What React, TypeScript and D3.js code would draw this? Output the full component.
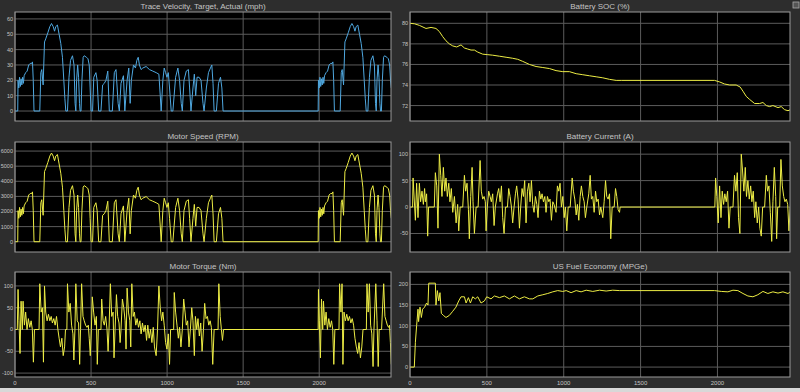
import React from "react";
import * as d3 from "d3";

// ---- data ----

const timeTicks = [0, 500, 1000, 1500, 2000];
const velocityTicks = [0, 10, 20, 30, 40, 50, 60];
const socTicks = [72, 74, 76, 78, 80];
const speedTicks = [0, 1000, 2000, 3000, 4000, 5000, 6000];
const currentTicks = [-50, 0, 50, 100];
const torqueTicks = [-100, -50, 0, 50, 100];
const mpgeTicks = [0, 50, 100, 150, 200];

// drive cycle sample times (s), shared by velocity and motor speed
const driveTimes = [
  0, 18, 20, 25, 30, 35, 40, 45, 50, 55,
  60, 70, 80, 90, 100, 110, 115, 120, 125, 163,
  170, 176, 185, 194, 202, 216, 229, 240, 251, 260,
  268, 279, 290, 301, 312, 321, 328, 334, 345, 355,
  365, 378, 388, 395, 400, 405, 412, 418, 424, 428,
  434, 440, 448, 455, 470, 480, 488, 494, 500, 510,
  518, 532, 540, 550, 565, 576, 587, 598, 610, 620,
  640, 653, 664, 678, 686, 697, 713, 722, 737, 748,
  757, 765, 779, 792, 801, 810, 818, 829, 840, 862,
  884, 906, 928, 946, 955, 961, 972, 981, 990, 999,
  1008, 1016, 1027, 1038, 1056, 1071, 1082, 1093, 1100, 1111,
  1126, 1140, 1148, 1157, 1170, 1179, 1188, 1197, 1210, 1223,
  1236, 1243, 1258, 1272, 1285, 1294, 1302, 1309, 1324, 1338,
  1351, 1360, 1368, 1993, 1995, 2000, 2005, 2010, 2015, 2020,
  2025, 2030, 2035, 2045, 2055, 2065, 2075, 2085, 2090, 2095,
  2100, 2138, 2145, 2151, 2160, 2169, 2177, 2191, 2204, 2215,
  2226, 2235, 2243, 2254, 2265, 2276, 2287, 2296, 2303, 2309,
  2320, 2330, 2340, 2353, 2363, 2370, 2375, 2380, 2387, 2393,
  2399, 2403, 2409, 2415, 2423, 2430, 2445, 2455, 2463, 2469,
  2474,
];

const velocityMph = [
  0, 0, 20, 15, 22, 16, 21, 17, 22, 18,
  23, 25, 26, 30, 31, 31, 32, 20, 0, 0,
  25, 27, 17, 45, 47, 51, 55, 57, 55, 52,
  55, 56, 50, 44, 35, 20, 8, 0, 0, 22,
  33, 36, 30, 5, 0, 20, 30, 22, 5, 0,
  0, 20, 35, 36, 35, 34, 30, 15, 0, 0,
  22, 25, 20, 0, 0, 17, 18, 20, 26, 0,
  0, 25, 27, 5, 0, 18, 23, 0, 20, 28,
  5, 20, 30, 28, 33, 35, 30, 27, 28, 29,
  27, 26, 25, 24, 10, 0, 20, 28, 25, 22,
  25, 15, 0, 0, 22, 28, 20, 5, 0, 20,
  26, 27, 15, 0, 15, 24, 10, 22, 22, 20,
  5, 0, 15, 25, 28, 30, 18, 0, 0, 18,
  22, 15, 0, 0, 20, 15, 22, 16, 21, 17,
  22, 18, 23, 25, 26, 30, 31, 31, 32, 20,
  0, 0, 25, 27, 17, 45, 47, 51, 55, 57,
  55, 52, 55, 56, 50, 44, 35, 20, 8, 0,
  0, 22, 33, 36, 30, 5, 0, 20, 30, 22,
  5, 0, 0, 20, 35, 36, 35, 34, 30, 20,
  15,
];

const motorSpeedRpm = [
  0, 0, 2060, 1550, 2270, 1650, 2160, 1750, 2270, 1850,
  2370, 2580, 2680, 3090, 3190, 3190, 3300, 2060, 0, 0,
  2580, 2780, 1750, 4640, 4840, 5250, 5670, 5870, 5670, 5360,
  5670, 5770, 5150, 4530, 3610, 2060, 820, 0, 0, 2270,
  3400, 3710, 3090, 520, 0, 2060, 3090, 2270, 520, 0,
  0, 2060, 3610, 3710, 3610, 3500, 3090, 1550, 0, 0,
  2270, 2580, 2060, 0, 0, 1750, 1850, 2060, 2680, 0,
  0, 2580, 2780, 520, 0, 1850, 2370, 0, 2060, 2880,
  520, 2060, 3090, 2880, 3400, 3610, 3090, 2780, 2880, 2990,
  2780, 2680, 2580, 2470, 1030, 0, 2060, 2880, 2580, 2270,
  2580, 1550, 0, 0, 2270, 2880, 2060, 520, 0, 2060,
  2680, 2780, 1550, 0, 1550, 2470, 1030, 2270, 2270, 2060,
  520, 0, 1550, 2580, 2880, 3090, 1850, 0, 0, 1850,
  2270, 1550, 0, 0, 2060, 1550, 2270, 1650, 2160, 1750,
  2270, 1850, 2370, 2580, 2680, 3090, 3190, 3190, 3300, 2060,
  0, 0, 2580, 2780, 1750, 4640, 4840, 5250, 5670, 5870,
  5670, 5360, 5670, 5770, 5150, 4530, 3610, 2060, 820, 0,
  0, 2270, 3400, 3710, 3090, 520, 0, 2060, 3090, 2270,
  520, 0, 0, 2060, 3610, 3710, 3610, 3500, 3090, 2060,
  1550,
];

const socTimes = [
  0, 30, 61, 104, 137, 169, 191, 213, 234, 256,
  278, 304, 332, 354, 375, 397, 419, 441, 473, 506,
  538, 582, 625, 668, 701, 733, 777, 820, 864, 907,
  950, 994, 1037, 1081, 1124, 1167, 1211, 1254, 1298, 1341,
  1374, 1981, 2014, 2046, 2079, 2122, 2148, 2166, 2187, 2209,
  2242, 2274, 2296, 2318, 2339, 2361, 2394, 2415, 2437, 2459,
  2474,
];
const socPct = [
  80.0, 79.95, 79.8, 79.5, 79.6, 79.5, 79.2, 78.7, 78.3, 78.0,
  77.8, 77.7, 77.9, 77.6, 77.5, 77.4, 77.4, 77.2, 77.0, 76.95,
  76.9, 76.8, 76.7, 76.6, 76.5, 76.3, 76.0, 75.8, 75.7, 75.6,
  75.4, 75.3, 75.3, 75.1, 75.0, 74.9, 74.8, 74.7, 74.55, 74.45,
  74.45, 74.45, 74.3, 74.1, 74.0, 74.0, 73.8, 73.4, 72.9, 72.6,
  72.2, 72.2, 72.3, 72.0, 71.9, 72.0, 71.8, 71.9, 71.6, 71.5,
  71.6,
];

const currentTimes = [
  0, 17, 20, 35, 43, 52, 61, 69, 78, 87,
  95, 100, 108, 115, 121, 158, 165, 174, 182, 191,
  200, 208, 217, 226, 234, 243, 252, 260, 269, 278,
  289, 300, 310, 317, 326, 343, 354, 362, 371, 380,
  386, 395, 404, 410, 419, 430, 443, 456, 464, 473,
  482, 490, 495, 503, 512, 521, 529, 538, 547, 555,
  569, 577, 586, 595, 603, 612, 621, 634, 642, 651,
  660, 668, 677, 686, 694, 703, 712, 720, 729, 738,
  746, 755, 764, 773, 781, 790, 798, 807, 816, 825,
  833, 842, 851, 859, 868, 877, 885, 894, 903, 911,
  920, 929, 937, 950, 959, 968, 976, 985, 994, 1003,
  1011, 1020, 1029, 1042, 1055, 1063, 1072, 1081, 1089, 1098,
  1107, 1115, 1124, 1133, 1141, 1150, 1163, 1172, 1180, 1189,
  1198, 1207, 1215, 1224, 1233, 1241, 1254, 1263, 1272, 1280,
  1289, 1298, 1306, 1315, 1328, 1337, 1345, 1354, 1363, 1367,
  1983, 1988, 1996, 2005, 2014, 2023, 2031, 2040, 2048, 2057,
  2066, 2075, 2083, 2101, 2111, 2120, 2129, 2137, 2146, 2155,
  2163, 2172, 2181, 2189, 2198, 2207, 2216, 2224, 2233, 2242,
  2250, 2259, 2268, 2276, 2285, 2294, 2307, 2318, 2326, 2335,
  2344, 2353, 2361, 2370, 2379, 2385, 2392, 2405, 2413, 2422,
  2431, 2439, 2448, 2457, 2465, 2474,
];
const currentAmps = [
  0, 0, 55, -25, 45, -20, 45, 10, 30, 5,
  35, 10, 25, -55, 0, 0, 65, 40, -40, 100,
  60, 20, 75, 30, 55, 20, 45, 10, 35, -10,
  20, -30, 5, -45, 0, 0, 60, 30, 45, -5,
  -60, 20, 75, 10, -50, 0, 0, 88, 30, 15,
  20, 10, -45, 0, 30, 20, 10, 25, -35, 0,
  25, 35, 10, 40, -20, -50, 0, 0, 35, 20,
  0, -30, 0, 25, 40, 15, -40, 0, 35, 20,
  50, -30, 30, 45, 10, 50, 5, -10, 20, 5,
  -20, 30, 15, 25, 10, 20, -10, 20, 10, 15,
  -25, 10, 5, -10, 40, 30, 45, 0, 20, -20,
  0, -45, 0, 0, 55, 30, 15, -15, 5, -25,
  20, 40, 20, 10, -20, 0, 25, 60, 15, 20,
  -10, 30, 10, 15, -15, 0, -20, 10, 50, 20,
  15, 25, -60, 0, 0, 35, 20, -5, -10, 0,
  0, 55, 20, -30, 40, -20, 30, 5, 25, 10,
  30, -40, 0, 0, 60, 30, 65, -20, -50, 100,
  70, 30, 75, 20, 50, 15, 40, 10, 30, -20,
  10, -30, 0, -40, -55, 0, 0, 60, 30, 40,
  -10, -65, 10, 75, 20, -60, 0, 0, 90, 40,
  20, 10, 15, 5, -45, 0,
];

const torqueTimes = [
  0, 15, 20, 26, 33, 40, 48, 53, 62, 70,
  79, 88, 97, 106, 114, 121, 128, 158, 163, 172,
  180, 187, 194, 202, 211, 220, 229, 238, 246, 255,
  264, 273, 282, 290, 299, 308, 317, 326, 332, 341,
  345, 354, 363, 372, 381, 387, 394, 400, 409, 418,
  425, 431, 438, 447, 455, 464, 473, 482, 488, 495,
  502, 508, 517, 526, 535, 541, 548, 565, 570, 579,
  587, 596, 605, 612, 618, 627, 636, 645, 651, 658,
  667, 675, 684, 691, 697, 706, 715, 724, 730, 737,
  746, 755, 761, 768, 777, 785, 794, 803, 812, 821,
  829, 838, 847, 856, 865, 873, 882, 891, 900, 909,
  917, 928, 937, 946, 955, 964, 972, 981, 990, 999,
  1008, 1016, 1023, 1043, 1047, 1056, 1065, 1074, 1082, 1091,
  1100, 1109, 1118, 1126, 1135, 1144, 1153, 1162, 1170, 1179,
  1186, 1195, 1203, 1212, 1221, 1230, 1239, 1247, 1256, 1265,
  1274, 1283, 1291, 1300, 1309, 1335, 1340, 1349, 1357, 1364,
  1371, 1993, 1995, 2001, 2008, 2015, 2023, 2028, 2037, 2045,
  2054, 2063, 2072, 2081, 2089, 2096, 2103, 2130, 2134, 2143,
  2150, 2156, 2163, 2172, 2181, 2190, 2199, 2208, 2217, 2226,
  2235, 2244, 2253, 2262, 2271, 2280, 2288, 2310, 2314, 2322,
  2330, 2338, 2346, 2354, 2360, 2372, 2380, 2388, 2394, 2410,
  2424, 2432, 2440, 2448, 2456, 2462, 2468, 2474,
];
const torqueNm = [
  0, 0, 92, 20, -55, 65, 0, 65, 10, 40,
  0, 25, 5, 20, 0, -75, 0, 0, 105, 40,
  50, -75, 100, 40, 20, 35, 20, 30, 15, 25,
  10, 30, 0, -20, -40, -20, -60, -40, 0, 0,
  105, 40, 60, 10, -10, -70, 0, 105, 20, 15,
  -80, 0, 105, 30, 20, 10, 5, 10, -20, -60,
  0, 75, 40, 10, 30, -80, 0, 0, 70, 20,
  10, 30, 0, -50, 0, 105, 30, 40, -65, 0,
  80, 30, 15, -30, 0, 70, 50, 20, -45, 95,
  40, 20, -40, 105, 30, 40, 10, 25, 5, 20,
  -10, 15, -5, 10, -25, 10, -20, 0, -30, 5,
  -40, -60, 0, 100, 50, 20, 40, 10, -30, -45,
  -10, -80, 0, 0, 85, 40, 10, -20, 5, -40,
  0, 70, 40, 10, 20, -40, 0, 50, 20, -60,
  30, 0, 25, -15, 15, -50, 0, 60, 25, 30,
  10, 20, 5, -80, 0, 0, 105, 30, 0, -25,
  0, 0, 92, 20, -65, 70, 0, 65, 10, 40,
  0, 25, 5, 20, 0, -80, 0, 0, 105, 40,
  105, -80, 40, 20, 35, 20, 30, 15, 25, 10,
  -20, -40, -55, -30, -65, -40, 0, 0, 105, 40,
  105, 10, -10, -85, 0, 105, 20, -85, 0, 0,
  105, 30, 20, 10, 5, 10, -30, -80,
];

const mpgeTimes = [
  0, 28, 35, 43, 52, 56, 65, 74, 82, 95,
  108, 117, 122, 165, 169, 178, 187, 195, 204, 217,
  234, 256, 278, 299, 317, 332, 354, 365, 380, 393,
  408, 425, 441, 462, 484, 499, 527, 549, 582, 614,
  647, 679, 712, 744, 777, 799, 831, 864, 896, 929,
  961, 994, 1016, 1048, 1081, 1113, 1146, 1189, 1233, 1276,
  1319, 1363, 1981, 2025, 2068, 2101, 2133, 2166, 2198, 2231,
  2263, 2296, 2328, 2361, 2394, 2426, 2459, 2474,
];
const mpge = [
  0, 0, 60, 100, 140, 110, 145, 120, 140, 145,
  155, 150, 203, 203, 150, 185, 160, 180, 130, 125,
  120, 125, 135, 145, 160, 170, 170, 155, 168, 155,
  170, 165, 170, 155, 160, 170, 165, 172, 168, 172,
  165, 172, 165, 170, 165, 165, 172, 175, 178, 182,
  185, 183, 185, 180, 185, 182, 186, 183, 186, 184,
  186, 185, 185, 183, 182, 186, 185, 178, 172, 170,
  175, 183, 178, 182, 179, 182, 178, 182,
];

// ---- layout / style ----
const W = 800;
const H = 392;
const BG = "#2d2d2d";
const GRID = "#5c5c5c";
const FRAME = "#9a9a9a";
const TEXT = "#c4c4c4";
const YELLOW = "#eded45";
const BLUE = "#4fa8e0";
const FONT = "'Liberation Sans', Arial, sans-serif";
const T_MAX = 2472;

type PanelProps = {
  id: string;
  title: string;
  x0: number;
  x1: number;
  y0: number;
  y1: number;
  yDomain: [number, number];
  yTicks: number[];
  times: number[];
  values: number[];
  color: string;
  showTime: boolean;
};

function Panel(p: PanelProps) {
  const x = d3.scaleLinear().domain([0, T_MAX]).range([p.x0, p.x1]);
  const y = d3.scaleLinear().domain(p.yDomain).range([p.y1, p.y0]);
  const pts = d3.zip(p.times, p.values) as [number, number][];
  const line = d3
    .line<[number, number]>()
    .x((d) => x(d[0]))
    .y((d) => y(d[1]));

  return (
    <g>
      <defs>
        <clipPath id={`clip-${p.id}`}>
          <rect x={p.x0} y={p.y0} width={p.x1 - p.x0} height={p.y1 - p.y0} />
        </clipPath>
      </defs>
      <rect x={p.x0} y={p.y0} width={p.x1 - p.x0} height={p.y1 - p.y0} fill="#000" />
      {timeTicks.map((t) => (
        <line key={"gx" + t} x1={x(t)} x2={x(t)} y1={p.y0} y2={p.y1} stroke={GRID} strokeWidth={1} />
      ))}
      {p.yTicks.map((v) => (
        <line key={"gy" + v} x1={p.x0} x2={p.x1} y1={y(v)} y2={y(v)} stroke={GRID} strokeWidth={1} />
      ))}
      <path
        d={line(pts) || ""}
        fill="none"
        stroke={p.color}
        strokeWidth={1}
        strokeLinejoin="round"
        clipPath={`url(#clip-${p.id})`}
      />
      <rect
        x={p.x0}
        y={p.y0}
        width={p.x1 - p.x0}
        height={p.y1 - p.y0}
        fill="none"
        stroke={FRAME}
        strokeWidth={1}
      />
      {p.yTicks.map((v) => (
        <text
          key={"ly" + v}
          x={p.x0 - 2}
          y={y(v)}
          dy="0.35em"
          textAnchor="end"
          fontSize={5.5}
          fill={TEXT}
        >
          {v}
        </text>
      ))}
      {p.showTime &&
        timeTicks.map((t) => (
          <text key={"lx" + t} x={x(t)} y={p.y1 + 8} textAnchor="middle" fontSize={6} fill={TEXT}>
            {t}
          </text>
        ))}
      <text x={(p.x0 + p.x1) / 2} y={p.y0 - 3} textAnchor="middle" fontSize={8} fill={TEXT}>
        {p.title}
      </text>
    </g>
  );
}

export default function App() {
  const L = { x0: 15, x1: 391 };
  const R = { x0: 410, x1: 790 };
  const rows = [
    { y0: 12, y1: 121 },
    { y0: 142, y1: 252 },
    { y0: 272, y1: 377 },
  ];

  return (
    <svg
      width={W}
      height={H}
      style={{ position: "absolute", left: 0, top: 0, fontFamily: FONT }}
    >
      <rect width={W} height={H} fill={BG} />
      <Panel id="vel" title="Trace Velocity, Target, Actual (mph)" {...L} {...rows[0]}
        yDomain={[-6.5, 64.5]} yTicks={velocityTicks} times={driveTimes} values={velocityMph}
        color={BLUE} showTime={false} />
      <Panel id="soc" title="Battery SOC (%)" {...R} {...rows[0]}
        yDomain={[70.5, 81.1]} yTicks={socTicks} times={socTimes} values={socPct}
        color={YELLOW} showTime={false} />
      <Panel id="rpm" title="Motor Speed (RPM)" {...L} {...rows[1]}
        yDomain={[-680, 6600]} yTicks={speedTicks} times={driveTimes} values={motorSpeedRpm}
        color={YELLOW} showTime={false} />
      <Panel id="amp" title="Battery Current (A)" {...R} {...rows[1]}
        yDomain={[-85, 123]} yTicks={currentTicks} times={currentTimes} values={currentAmps}
        color={YELLOW} showTime={false} />
      <Panel id="trq" title="Motor Torque (Nm)" {...L} {...rows[2]}
        yDomain={[-109, 132]} yTicks={torqueTicks} times={torqueTimes} values={torqueNm}
        color={YELLOW} showTime={true} />
      <Panel id="mpg" title="US Fuel Economy (MPGe)" {...R} {...rows[2]}
        yDomain={[-24, 230]} yTicks={mpgeTicks} times={mpgeTimes} values={mpge}
        color={YELLOW} showTime={true} />
      <rect x={793} y={2} width={6} height={6} fill="#555" stroke="#aaa" strokeWidth={0.8} />
      <rect x={0} y={388} width={W} height={4} fill="#d8d8d8" />
    </svg>
  );
}
